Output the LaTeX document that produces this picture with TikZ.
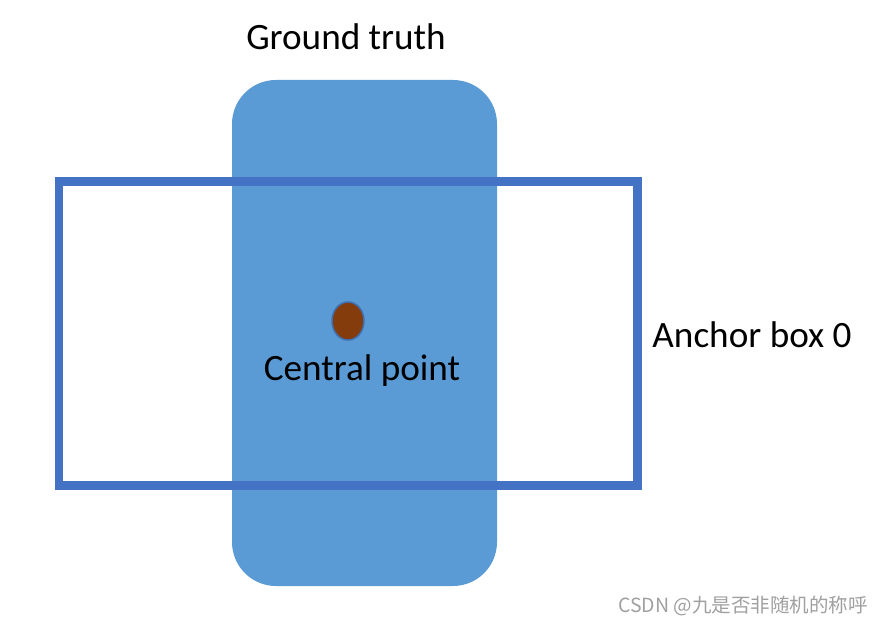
\documentclass[tikz,border=0pt]{standalone}
\usepackage{fontspec}
\usetikzlibrary{shapes.geometric}
\setmainfont{Carlito}
\newfontfamily\cjkfont{Noto Sans CJK SC}
\definecolor{gtblue}{HTML}{5B9BD5}
\definecolor{anchorblue}{HTML}{4472C4}
\definecolor{dotbrown}{HTML}{843C0C}
\definecolor{dotedge}{HTML}{3F6FB0}
\definecolor{wmgray}{HTML}{A0A0A0}
\begin{document}
\begin{tikzpicture}[x=1pt,y=-1pt,
  lbl/.style={font=\fontsize{37.2}{40}\selectfont, text=black, inner sep=0pt},
  wm/.style={font=\cjkfont\fontsize{19.5}{22}\selectfont, text=wmgray, inner sep=0pt}]
\useasboundingbox (0,0) rectangle (884,626);
\fill[white] (0,0) rectangle (884,626);
\fill[gtblue, rounded corners=44] (232,80) rectangle (497,586);
\node[draw=anchorblue, line width=8.5pt, minimum width=578.5pt, minimum height=304pt, inner sep=0pt] (anchor) at (348.25,333.5) {};
\node[ellipse, fill=dotbrown, draw=dotedge, line width=1.5pt, minimum width=32pt, minimum height=38pt, inner sep=0pt] (dot) at (348,321) {};
\node[lbl] (gt) at (346,37) {Ground truth};
\node[lbl] (cp) at (362,371) {Central point};
\node[lbl] (ab) at (752,335) {Anchor box 0};
\node[wm, anchor=east] (w) at (868,606) {CSDN @九是否非随机的称呼};
\end{tikzpicture}
\end{document}
